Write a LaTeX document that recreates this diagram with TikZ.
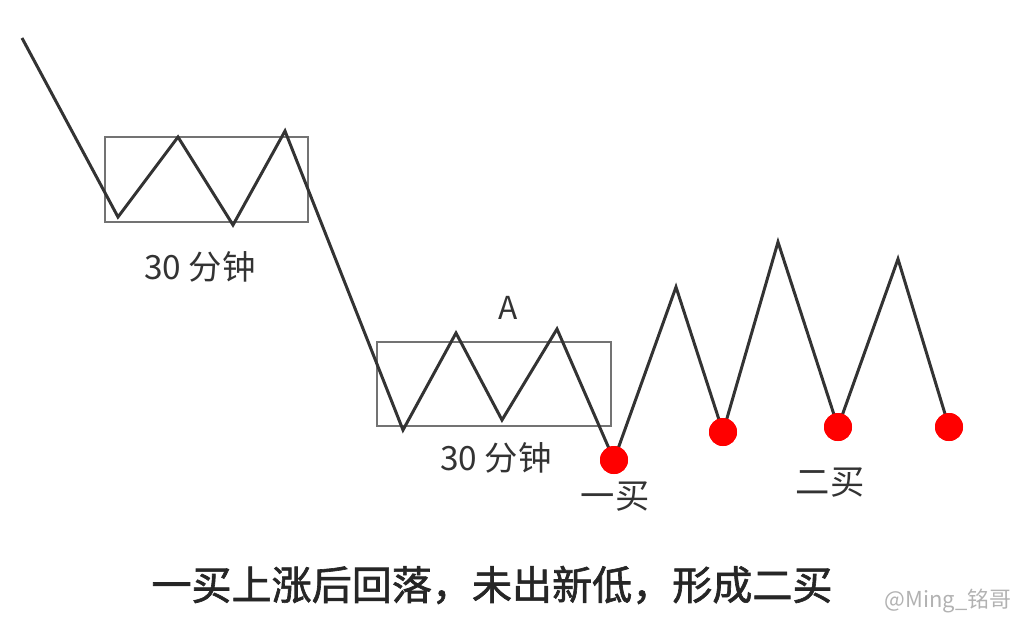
\documentclass[tikz,border=0pt]{standalone}
\usepackage{fontspec}
\newfontfamily\cjk{Noto Sans CJK SC}
\newfontfamily\cjkheavy[FakeBold=1.6]{Noto Sans CJK SC}
\begin{document}
\begin{tikzpicture}[x=0.02cm,y=-0.02cm,
  price/.style={draw=black!80, line width=1.7pt, line join=miter},
  zone/.style={draw=black!55, line width=0.8pt, inner sep=0pt},
  buypt/.style={circle, fill=red, inner sep=0pt, minimum size=0.56cm},
  lbl/.style={font=\cjk\fontsize{19}{22}\selectfont, text=black!80, inner sep=0pt},
  big/.style={font=\cjkheavy\fontsize{22.8}{26}\selectfont, text=black!85, inner sep=0pt},
  wm/.style={font=\cjk\fontsize{12.5}{15}\selectfont, text=black!30, inner sep=0pt}]
\useasboundingbox (0,0) rectangle (1029,633);
% zones
\node[zone, minimum width=4.06cm, minimum height=1.7cm] (z1) at (206.5,179.5) {};
\node[zone, minimum width=4.68cm, minimum height=1.68cm] (z2) at (494,384) {};
% price points
\coordinate (p0) at (22,38);
\coordinate (p1) at (118,217);
\coordinate (p2) at (178,137);
\coordinate (p3) at (233,225);
\coordinate (p4) at (285,131);
\coordinate (p5) at (403,430);
\coordinate (p6) at (456,333);
\coordinate (p7) at (502,420);
\coordinate (p8) at (557,329);
\node[buypt] (b1) at (614,460) {};
\coordinate (p10) at (676,287);
\node[buypt] (b2) at (723,432) {};
\coordinate (p12) at (778,242);
\node[buypt] (b3) at (838,427) {};
\coordinate (p14) at (898,259);
\node[buypt] (b4) at (949,427) {};
\draw[price] (p0) -- (p1) -- (p2) -- (p3) -- (p4) -- (p5) -- (p6) -- (p7) -- (p8) -- (b1.center) -- (p10) -- (b2.center) -- (p12) -- (b3.center) -- (p14) -- (b4.center);
\foreach \b in {b1,b2,b3,b4} \node[buypt] at (\b) {};
% labels
\node[lbl] (t1) at (200,267) {30 分钟};
\node[lbl] (t2) at (496,458) {30 分钟};
\node[lbl, font=\cjk\fontsize{18}{22}\selectfont] (tA) at (508,308) {A};
\node[lbl, font=\cjk\fontsize{19.5}{22}\selectfont] (t3) at (615,497) {一买};
\node[lbl, font=\cjk\fontsize{19.5}{22}\selectfont] (t4) at (830,483) {二买};
\node[big] (cap) at (492,585) {一买上涨后回落，未出新低，形成二买};
\node[wm] (w) at (948,601) {@Ming\_铭哥};
\end{tikzpicture}
\end{document}
